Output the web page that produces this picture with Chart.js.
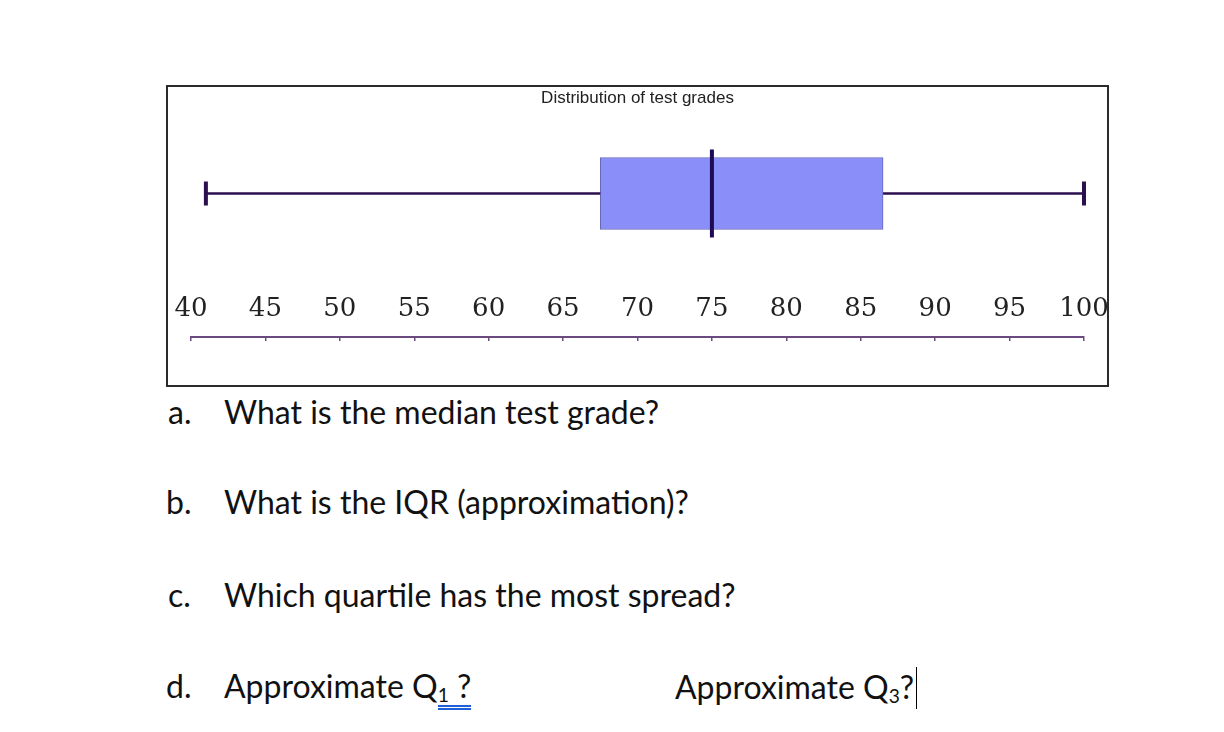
<!DOCTYPE html>
<html>
<head>
<meta charset="utf-8">
<script src="https://cdn.jsdelivr.net/npm/chart.js@4.4.0/dist/chart.umd.min.js"></script>
<style>
  body { margin: 0; background: #fff; width: 1224px; height: 732px; position: relative; overflow: hidden; font-family: Lato, "Open Sans", sans-serif; }
  #frame { position: absolute; left: 166px; top: 85px; width: 943px; height: 302px; border: 2px solid #2b2b2b; box-sizing: border-box; }
  .q { position: absolute; font-size: 32px; line-height: 38px; color: #111; white-space: nowrap; }
  .spell { border-bottom: 5px double #1f5fd8; }
  .caret { display: inline-block; width: 1px; height: 42px; background: #000; vertical-align: -10px; margin-left: 2px; }
  sub { font-size: 60%; vertical-align: -4px; line-height: 0; }
</style>
</head>
<body>
<div id="frame"><canvas id="chart"></canvas></div>

<div class="q" style="left:168px; top:393px;">a.</div>
<div class="q" style="left:224px; top:393px;">What is the median test grade?</div>
<div class="q" style="left:166px; top:483px;">b.</div>
<div class="q" style="left:224px; top:483px;">What is the IQR (approximation)?</div>
<div class="q" style="left:168px; top:576px;">c.</div>
<div class="q" style="left:224px; top:576px;">Which quartile has the most spread?</div>
<div class="q" style="left:166px; top:667px;">d.</div>
<div class="q" style="left:224px; top:667px;">Approximate Q<span class="spell"><sub>1</sub> ?</span></div>
<div class="q" style="left:675px; top:667px;">Approximate Q<sub>3</sub>?<span class="caret"></span></div>

<script>
// box plot summary
const boxLabels = ['Test grades'];
const minVals = [41];
const q1Vals = [67.5];
const medianVals = [75];
const q3Vals = [86.5];
const maxVals = [100];
const tickValues = [40, 45, 50, 55, 60, 65, 70, 75, 80, 85, 90, 95, 100];

const BOX_ROW = 0.656; // where the box sits on the hidden 0..1 axis

const whiskers = {
  id: 'whiskers',
  afterDatasetsDraw(chart) {
    const { ctx, scales: { x } } = chart;
    const meta = chart.getDatasetMeta(0);
    meta.data.forEach((bar, i) => {
      const cy = bar.y;
      const half = bar.height / 2;
      const pMin = x.getPixelForValue(minVals[i]);
      const pQ1 = x.getPixelForValue(q1Vals[i]);
      const pMed = x.getPixelForValue(medianVals[i]);
      const pQ3 = x.getPixelForValue(q3Vals[i]);
      const pMax = x.getPixelForValue(maxVals[i]);
      ctx.save();
      ctx.strokeStyle = '#2c0f4e';
      ctx.lineWidth = 2.5;
      ctx.beginPath();
      ctx.moveTo(pMin, cy); ctx.lineTo(pQ1, cy);
      ctx.moveTo(pQ3, cy); ctx.lineTo(pMax, cy);
      ctx.stroke();
      ctx.lineWidth = 4;
      ctx.beginPath();
      ctx.moveTo(pMin, cy - 12); ctx.lineTo(pMin, cy + 12);
      ctx.moveTo(pMax, cy - 12); ctx.lineTo(pMax, cy + 12);
      ctx.stroke();
      ctx.strokeStyle = '#1d0b55';
      ctx.beginPath();
      ctx.moveTo(pMed, cy - half - 8); ctx.lineTo(pMed, cy + half + 8);
      ctx.stroke();
      ctx.restore();
    });
  }
};

new Chart(document.getElementById('chart'), {
  type: 'bar',
  data: {
    labels: boxLabels,
    datasets: [{
      label: 'Test grades',
      data: boxLabels.map((l, i) => ({ y: BOX_ROW, x: [q1Vals[i], q3Vals[i]] })),
      backgroundColor: '#8a8ef9',
      borderColor: '#6767b8',
      borderWidth: 1,
      borderSkipped: false,
      barThickness: 72
    }]
  },
  options: {
    indexAxis: 'y',
    responsive: true,
    maintainAspectRatio: false,
    animation: false,
    layout: { padding: { left: 23, right: 23, top: 0, bottom: 20 } },
    plugins: {
      legend: { display: false },
      tooltip: { enabled: false },
      title: {
        display: true,
        text: 'Distribution of test grades',
        color: '#222',
        font: { family: 'Liberation Sans', size: 17, weight: 'normal' },
        padding: { top: 1, bottom: 5 }
      }
    },
    scales: {
      x: {
        type: 'linear',
        position: 'bottom',
        min: 40,
        max: 100,
        afterBuildTicks: (scale) => { scale.ticks = tickValues.map(v => ({ value: v })); },
        afterFit: (scale) => { scale.paddingLeft = 0; scale.paddingRight = 0; },
        ticks: {
          mirror: true,
          padding: 12,
          autoSkip: false,
          maxRotation: 0,
          color: '#222',
          font: { family: 'DejaVu Serif', size: 26 }
        },
        grid: { drawOnChartArea: false, drawTicks: true, tickLength: 4, color: '#6a4a80', lineWidth: 1.5 },
        border: { display: true, color: '#6a4a80', width: 2 }
      },
      y: { type: 'linear', min: 0, max: 1, display: false }
    }
  },
  plugins: [whiskers]
});
</script>
</body>
</html>
